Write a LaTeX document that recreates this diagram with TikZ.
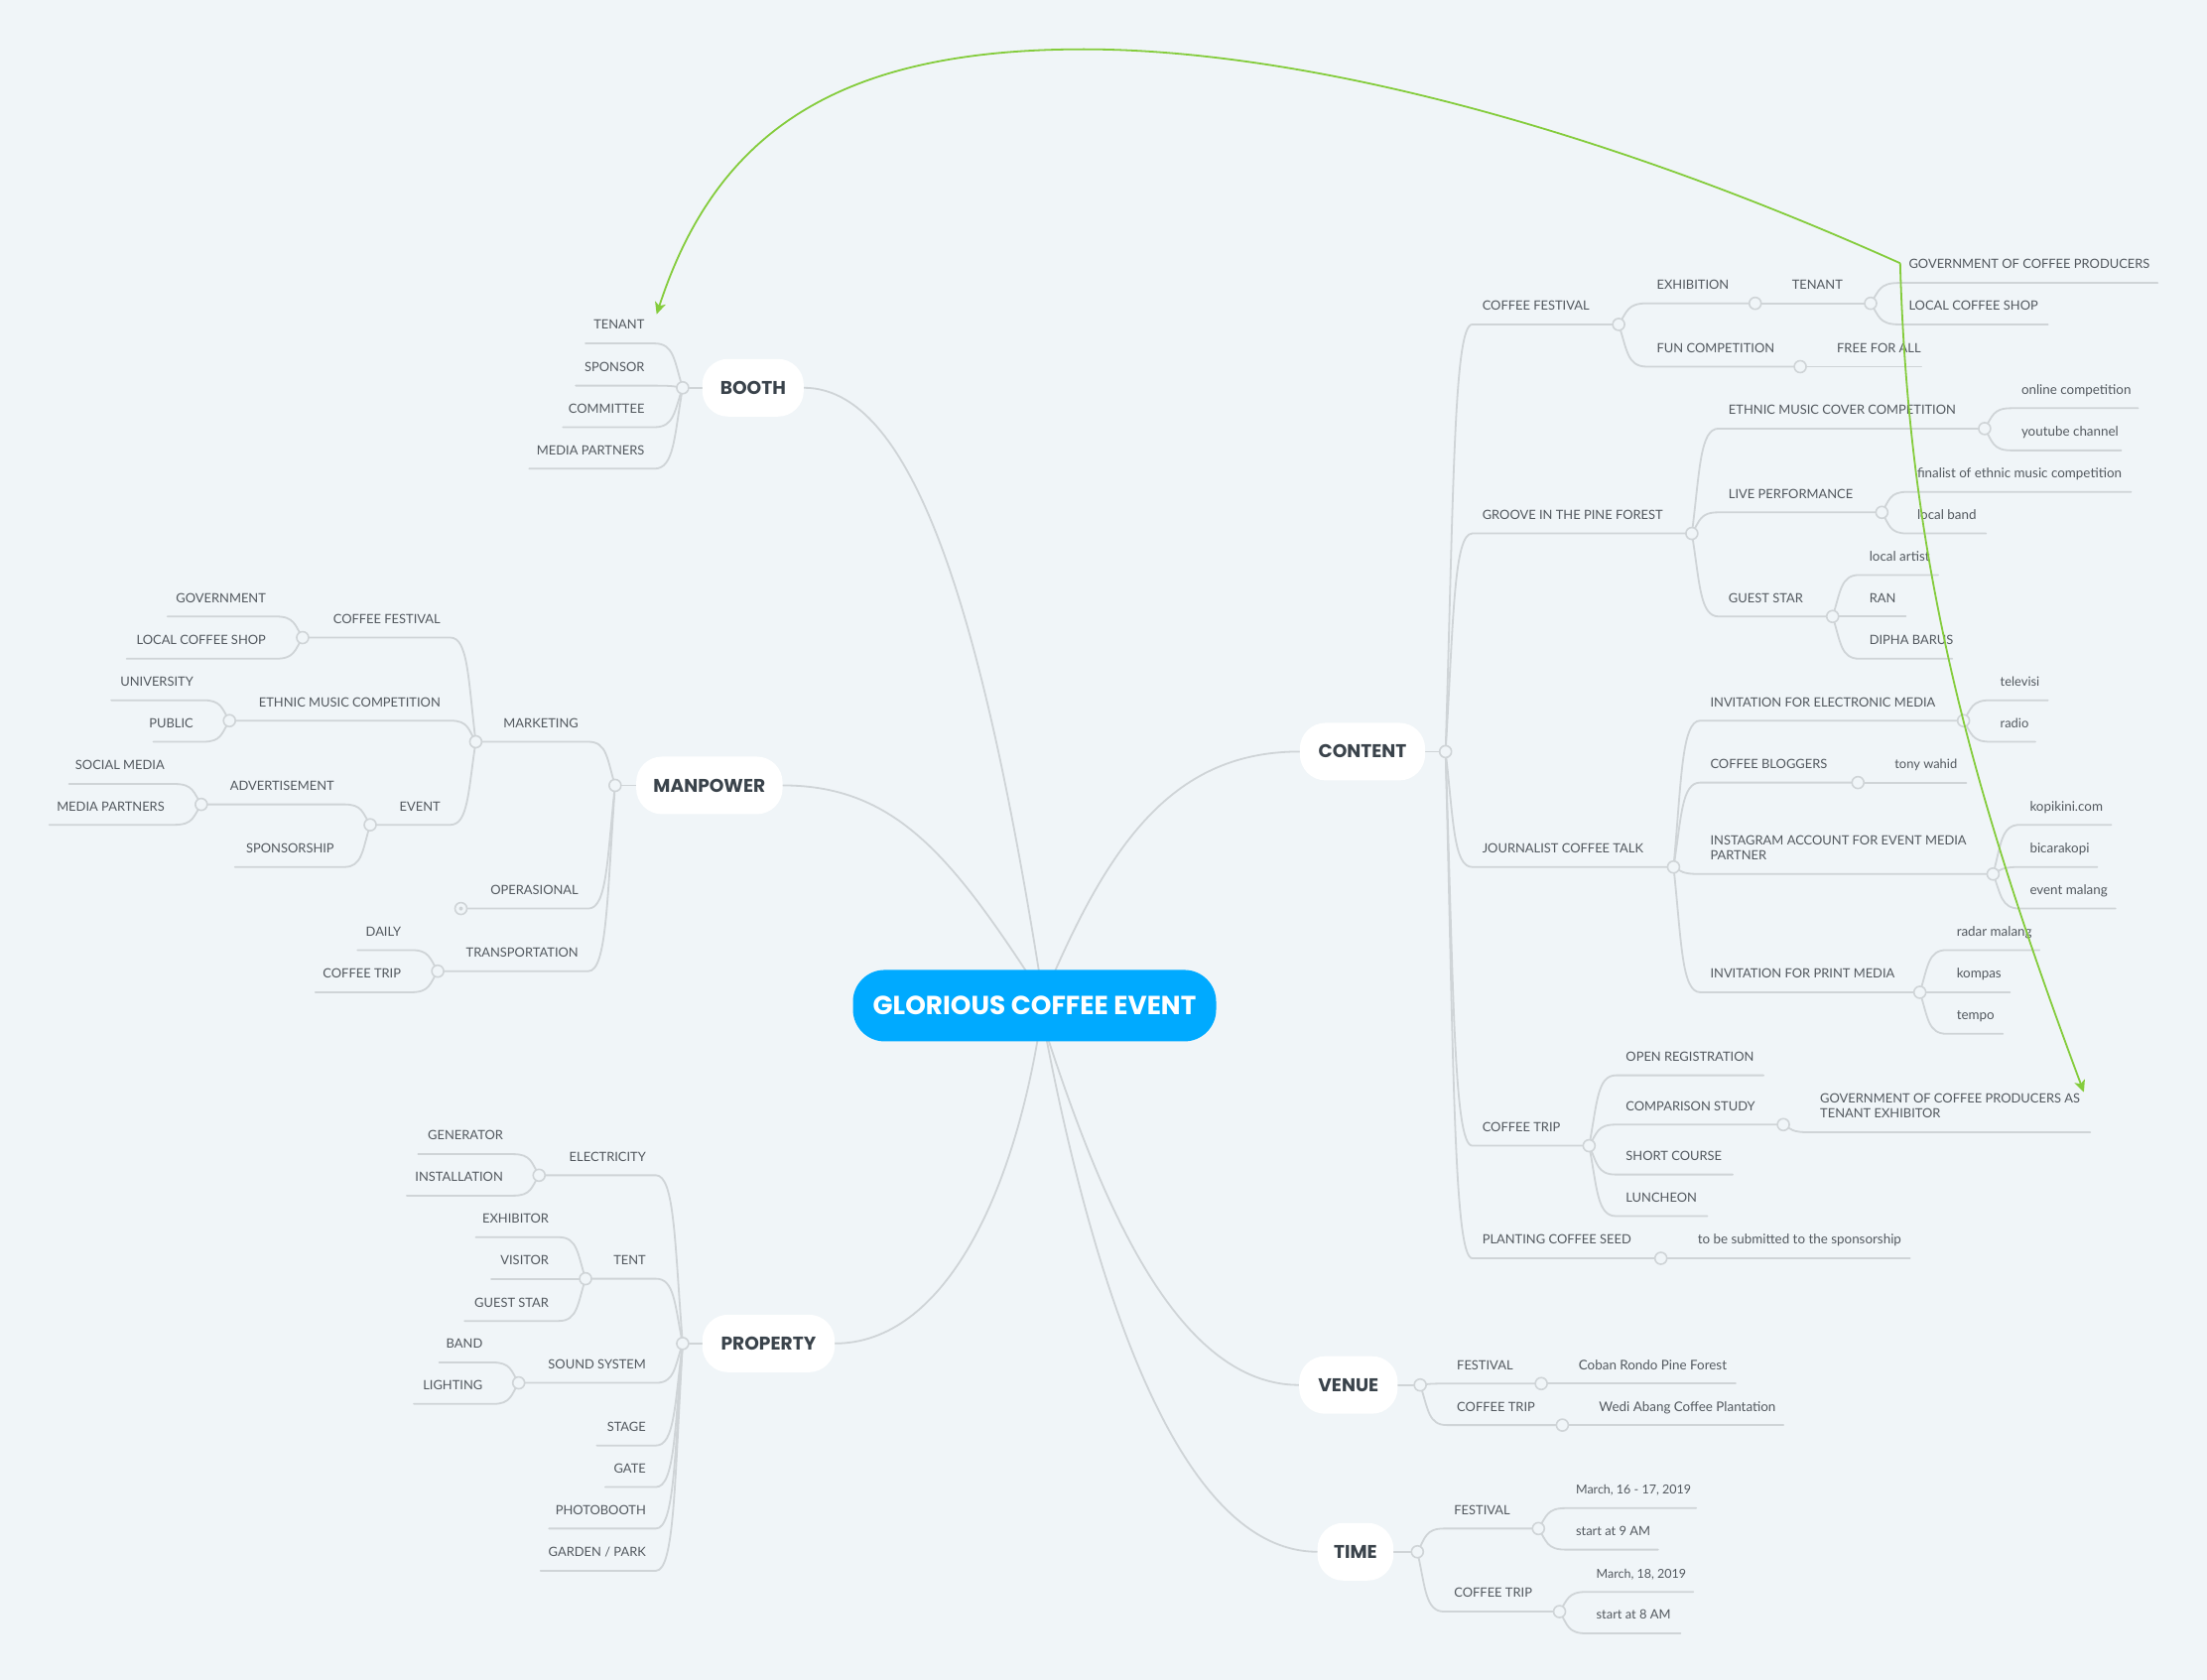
\documentclass[tikz,border=0pt]{standalone}
\usepackage{fontspec}
\setmainfont{Lato}
\newfontfamily\headfont{Poppins}
\usetikzlibrary{calc,backgrounds,arrows.meta}
\definecolor{bgc}{HTML}{F0F5F8}
\definecolor{linec}{HTML}{CFD4D7}
\definecolor{txtc}{HTML}{53595F}
\definecolor{headc}{HTML}{3A434B}
\definecolor{rootc}{HTML}{00AAFF}
\definecolor{relc}{HTML}{84CC3C}
\newcommand{\lcs}{\fontsize{13.4}{15.6}\selectfont}
\newcommand{\dgs}{\fontsize{12.5}{15.6}\selectfont}
\tikzset{
  lbl/.style={inner sep=0pt,text depth=0pt,text=txtc,align=left,font=\fontsize{12.9}{15.6}\selectfont},
  lblr/.style={inner sep=0pt,text depth=0pt,text=txtc,align=right,font=\fontsize{12.9}{15.6}\selectfont},
  jn/.style={circle,draw=linec,fill=bgc,line width=1.6pt,minimum size=12pt,inner sep=0pt},
  conn/.style={draw=linec,line width=1.8pt,line cap=round},
  pillbox/.style={rectangle,rounded corners=26pt,fill=white,minimum height=58pt,inner sep=0pt,text=headc,font=\headfont\bfseries\fontsize{18.6}{21}\selectfont},
  rootbox/.style={rectangle,rounded corners=32pt,fill=rootc,minimum width=366pt,minimum height=72pt,inner sep=0pt,text=white,font=\headfont\bfseries\fontsize{26.3}{28}\selectfont},
  rel/.style={draw=relc,line width=1.8pt,line join=round},
  relhead/.style={-{Stealth[length=12pt,width=11pt,inset=3pt]}}
}
% curved connector from a parent node to a named end point
\newcommand{\Curve}[2]{%
  let \p1=(#1.center),\p2=(#2) in (#1.center) .. controls ({\x1+.3*(\x2-\x1)},{\y1+.6*(\y2-\y1)}) and ({\x1+.3*(\x2-\x1)},{\y2}) .. (#2)}
% id, parent, text x, line y, far x, text
\newcommand{\RTopic}[6]{%
  \coordinate (#1-a) at (#3-7,#4);
  \coordinate (#1-b) at (#5,#4);
  \node[lbl,anchor=south west] (#1) at (#3,#4-9.8) {#6};
  \begin{pgfonlayer}{background}
  \draw[conn] \Curve{#2}{#1-a} -- (#1-b);
  \end{pgfonlayer}}
\newcommand{\LTopic}[6]{%
  \coordinate (#1-a) at (#3+7,#4);
  \coordinate (#1-b) at (#5,#4);
  \node[lblr,anchor=south east] (#1) at (#3,#4-9.8) {#6};
  \begin{pgfonlayer}{background}
  \draw[conn] \Curve{#2}{#1-a} -- (#1-b);
  \end{pgfonlayer}}
\newcommand{\Jn}[3]{\node[jn] (#1) at (#2,#3) {};}
\newcommand{\Pill}[7]{%
  \node[pillbox,minimum width=#4*1.41837pt] (#1) at (#2,#3) {#5};
  \node[jn] (#1j) at (#7,#3) {};
  \begin{pgfonlayer}{background}
  \draw[conn] (#1) -- (#1j);
  \end{pgfonlayer}}
\newcommand{\RootEdge}[5]{%
  \begin{pgfonlayer}{background}
  \draw[conn] ($(root.center)+(#3,0)$) .. controls (#4) and (#5) .. (#1.#2);
  \end{pgfonlayer}}
\begin{document}
\begin{tikzpicture}[x=1.41837pt,y=-1.41837pt]
\useasboundingbox (0,0) rectangle (1568,1193.6);
\begin{pgfonlayer}{background}
\fill[bgc] (0,0) rectangle (1568,1193.6);
\end{pgfonlayer}
\node[rootbox] (root) at (735,714.5) {GLORIOUS COFFEE EVENT};
\Pill{booth}{535}{275.5}{72}{BOOTH}{east}{485}
\Pill{man}{504}{558}{104}{MANPOWER}{east}{437}
\Pill{prop}{546}{954.5}{94}{PROPERTY}{east}{485}
\Pill{cont}{968}{534}{89}{CONTENT}{west}{1027}
\Pill{ven}{958}{984}{70}{VENUE}{west}{1009}
\Pill{time}{963}{1102.5}{54}{TIME}{west}{1007}
\RootEdge{booth}{east}{7}{703,464}{655,275.5}
\RootEdge{man}{east}{10}{680,614}{640,558}
\RootEdge{cont}{west}{4}{785,604}{830,534}
\RootEdge{prop}{east}{6}{722,850}{670,954.5}
\RootEdge{time}{west}{4}{770,884}{830,1102.5}
\RootEdge{ven}{west}{2}{775,834}{830,984}
% BOOTH
\LTopic{b1}{boothj}{458}{244}{416}{TENANT}
\LTopic{b2}{boothj}{458}{274}{409}{SPONSOR}
\LTopic{b3}{boothj}{458}{303.5}{400}{COMMITTEE}
\LTopic{b4}{boothj}{458}{333}{376}{MEDIA PARTNERS}
% MANPOWER
\LTopic{m1}{manj}{411}{527}{338}{MARKETING}\Jn{m1j}{338}{527}
\LTopic{m11}{m1j}{313}{453}{215}{COFFEE FESTIVAL}\Jn{m11j}{215}{453}
\LTopic{m111}{m11j}{189}{438}{119}{GOVERNMENT}
\LTopic{m112}{m11j}{189}{468}{90}{LOCAL COFFEE SHOP}
\LTopic{m12}{m1j}{313}{512}{163}{ETHNIC MUSIC COMPETITION}\Jn{m12j}{163}{512}
\LTopic{m121}{m12j}{137.5}{497.5}{79}{UNIVERSITY}
\LTopic{m122}{m12j}{137.5}{527}{109}{PUBLIC}
\LTopic{m13}{m1j}{313}{586}{263}{EVENT}\Jn{m13j}{263}{586}
\LTopic{m131}{m13j}{237.5}{571.5}{143}{ADVERTISEMENT}\Jn{m131j}{143}{571.5}
\LTopic{m1311}{m131j}{117}{557}{49}{SOCIAL MEDIA}
\LTopic{m1312}{m131j}{117}{586}{35}{MEDIA PARTNERS}
\LTopic{m132}{m13j}{237.5}{616}{167}{SPONSORSHIP}
\LTopic{m2}{manj}{411}{645.5}{327.5}{OPERASIONAL}\Jn{m2j}{327.5}{645.5}
\fill[linec] (m2j.center) circle (2pt);
\LTopic{m3}{manj}{411}{690}{311}{TRANSPORTATION}\Jn{m3j}{311}{690}
\LTopic{m31}{m3j}{285}{675}{254}{DAILY}
\LTopic{m32}{m3j}{285}{705}{224}{COFFEE TRIP}
% PROPERTY
\LTopic{p1}{propj}{459}{835}{383}{ELECTRICITY}\Jn{p1j}{383}{835}
\LTopic{p11}{p1j}{357.5}{820}{297}{GENERATOR}
\LTopic{p12}{p1j}{357.5}{849.5}{289}{INSTALLATION}
\LTopic{p2}{propj}{459}{908.5}{416}{TENT}\Jn{p2j}{416}{908.5}
\LTopic{p21}{p2j}{390}{879}{338}{EXHIBITOR}
\LTopic{p22}{p2j}{390}{908.5}{349}{VISITOR}
\LTopic{p23}{p2j}{390}{938.5}{330}{GUEST STAR}
\LTopic{p3}{propj}{459}{982.5}{368.5}{SOUND SYSTEM}\Jn{p3j}{368.5}{982.5}
\LTopic{p31}{p3j}{343}{968}{312}{BAND}
\LTopic{p32}{p3j}{343}{997.5}{294}{LIGHTING}
\LTopic{p4}{propj}{459}{1027}{424}{STAGE}
\LTopic{p5}{propj}{459}{1056.5}{430}{GATE}
\LTopic{p6}{propj}{459}{1086}{390}{PHOTOBOOTH}
\LTopic{p7}{propj}{459}{1116}{384}{GARDEN / PARK}
% CONTENT
\RTopic{c1}{contj}{1053}{230.5}{1150}{COFFEE FESTIVAL}\Jn{c1j}{1150}{230.5}
\RTopic{c11}{c1j}{1177}{215.5}{1247}{EXHIBITION}\Jn{c11j}{1247}{215.5}
\RTopic{c111}{c11j}{1273}{215.5}{1329}{TENANT}\Jn{c111j}{1329}{215.5}
\RTopic{c1111}{c111j}{1356}{201}{1533}{GOVERNMENT OF COFFEE PRODUCERS}
\RTopic{c1112}{c111j}{1356}{230.5}{1455}{LOCAL COFFEE SHOP}
\RTopic{c12}{c1j}{1177}{260.5}{1279}{FUN COMPETITION}\Jn{c12j}{1279}{260.5}
\RTopic{c121}{c12j}{1305}{260.5}{1365}{FREE FOR ALL}
\RTopic{c2}{contj}{1053}{379}{1202}{GROOVE IN THE PINE FOREST}\Jn{c2j}{1202}{379}
\RTopic{c21}{c2j}{1228}{304.5}{1410}{ETHNIC MUSIC COVER COMPETITION}\Jn{c21j}{1410}{304.5}
\RTopic{c211}{c21j}{1436}{290}{1519}{\lcs online competition}
\RTopic{c212}{c21j}{1436}{320}{1507}{\lcs youtube channel}
\RTopic{c22}{c2j}{1228}{364}{1337}{LIVE PERFORMANCE}\Jn{c22j}{1337}{364}
\RTopic{c221}{c22j}{1362}{349.5}{1514}{\lcs finalist of ethnic music competition}
\RTopic{c222}{c22j}{1362}{379}{1411}{\lcs local band}
\RTopic{c23}{c2j}{1228}{438}{1302}{GUEST STAR}\Jn{c23j}{1302}{438}
\RTopic{c231}{c23j}{1328}{408.5}{1377}{\lcs local artist}
\RTopic{c232}{c23j}{1328}{438}{1354}{RAN}
\RTopic{c233}{c23j}{1328}{468}{1387}{DIPHA BARUS}
\RTopic{c3}{contj}{1053}{616}{1189}{JOURNALIST COFFEE TALK}\Jn{c3j}{1189}{616}
\RTopic{c31}{c3j}{1215}{512}{1395}{INVITATION FOR ELECTRONIC MEDIA}\Jn{c31j}{1395}{512}
\RTopic{c311}{c31j}{1421}{497.5}{1455}{televisi}
\RTopic{c312}{c31j}{1421}{527}{1446}{radio}
\RTopic{c32}{c3j}{1215}{556}{1320}{COFFEE BLOGGERS}\Jn{c32j}{1320}{556}
\RTopic{c321}{c32j}{1346}{556}{1397}{tony wahid}
\RTopic{c33}{c3j}{1215}{621}{1416}{INSTAGRAM ACCOUNT FOR EVENT MEDIA\\PARTNER}\Jn{c33j}{1416}{621}
\RTopic{c331}{c33j}{1442}{586}{1500}{\lcs kopikini.com}
\RTopic{c332}{c33j}{1442}{616}{1490}{\lcs bicarakopi}
\RTopic{c333}{c33j}{1442}{645.5}{1503}{\lcs event malang}
\RTopic{c34}{c3j}{1215}{705}{1364}{INVITATION FOR PRINT MEDIA}\Jn{c34j}{1364}{705}
\RTopic{c341}{c34j}{1390}{675}{1449}{\lcs radar malang}
\RTopic{c342}{c34j}{1390}{705}{1428}{\lcs kompas}
\RTopic{c343}{c34j}{1390}{734.5}{1423}{\lcs tempo}
\RTopic{c4}{contj}{1053}{814}{1129}{COFFEE TRIP}\Jn{c4j}{1129}{814}
\RTopic{c41}{c4j}{1155}{764}{1253}{OPEN REGISTRATION}
\RTopic{c42}{c4j}{1155}{799}{1267}{COMPARISON STUDY}\Jn{c42j}{1267}{799}
\RTopic{c421}{c42j}{1293}{804.5}{1485}{GOVERNMENT OF COFFEE PRODUCERS AS\\TENANT EXHIBITOR}
\RTopic{c43}{c4j}{1155}{834.5}{1231}{SHORT COURSE}
\RTopic{c44}{c4j}{1155}{864}{1213}{LUNCHEON}
\RTopic{c5}{contj}{1053}{894}{1180}{PLANTING COFFEE SEED}\Jn{c5j}{1180}{894}
\RTopic{c51}{c5j}{1206}{894}{1357}{\lcs to be submitted to the sponsorship}
% VENUE
\RTopic{v1}{venj}{1035}{983}{1095}{FESTIVAL}\Jn{v1j}{1095}{983}
\RTopic{v11}{v1j}{1121.5}{983}{1233}{\lcs Coban Rondo Pine Forest}
\RTopic{v2}{venj}{1035}{1012.5}{1110}{COFFEE TRIP}\Jn{v2j}{1110}{1012.5}
\RTopic{v21}{v2j}{1136}{1012.5}{1267}{\lcs Wedi Abang Coffee Plantation}
% TIME
\RTopic{t1}{timej}{1033}{1086}{1093}{FESTIVAL}\Jn{t1j}{1093}{1086}
\RTopic{t11}{t1j}{1119.5}{1071.5}{1205}{\dgs March, 16 - 17, 2019}
\RTopic{t12}{t1j}{1119.5}{1101}{1178}{start at 9 AM}
\RTopic{t2}{timej}{1033}{1145}{1108}{COFFEE TRIP}\Jn{t2j}{1108}{1145}
\RTopic{t21}{t2j}{1134}{1131}{1203}{\dgs March, 18, 2019}
\RTopic{t22}{t2j}{1134}{1160.5}{1194}{start at 8 AM}
% relationship
\coordinate (relS) at (1350,187);
\coordinate (relA) at (466.5,223.3);
\coordinate (relB) at (1480.5,776);
\coordinate (relTop) at (770,35);
\draw[rel,relhead] (relS) .. controls (1100,75) and (900,35) .. (relTop) .. controls (600,35) and (510,90) .. (relA);
\draw[rel,relhead] (relS) .. controls (1356,400) and (1400,560) .. (relB);
\end{tikzpicture}
\end{document}
